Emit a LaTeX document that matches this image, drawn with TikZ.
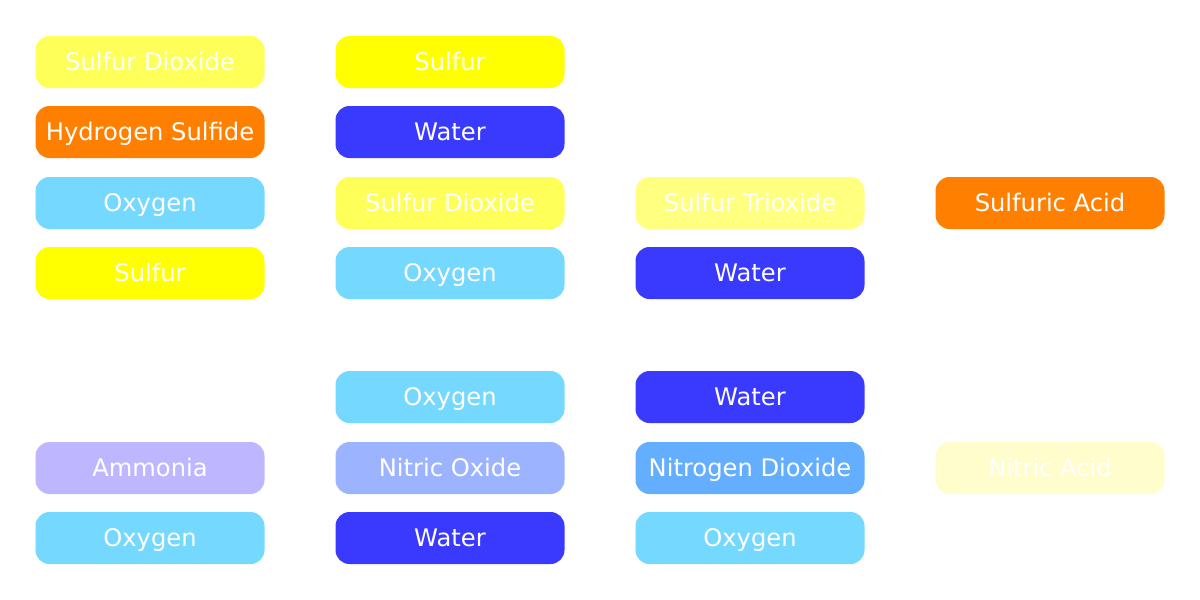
\documentclass[tikz,border=0pt]{standalone}
\usepackage{fontspec}
\setmainfont{DejaVu Sans}
\definecolor{sdiox}{HTML}{FFFF5A}
\definecolor{sulf}{HTML}{FFFF00}
\definecolor{hsulf}{HTML}{FF8000}
\definecolor{water}{HTML}{3A3AFF}
\definecolor{oxy}{HTML}{75D8FF}
\definecolor{strio}{HTML}{FFFF80}
\definecolor{ammon}{HTML}{BEB6FF}
\definecolor{nox}{HTML}{9CB4FF}
\definecolor{ndiox}{HTML}{63AEFF}
\definecolor{nacid}{HTML}{FFFDCC}
\tikzset{
    chem/.style={rounded corners=14pt, minimum width=229pt, minimum height=52pt,
        inner sep=0pt, text height=17.5pt, text depth=0pt, text=white,
        font=\fontsize{24.2}{28}\selectfont}
}
\begin{document}
\begin{tikzpicture}[x=1pt, y=-1pt]
    \useasboundingbox (0,0) rectangle (1200,600);

    % Sulfur cycle, column 1
    \node[chem, fill=sdiox] (so2a) at (150,62) {Sulfur Dioxide};
    \node[chem, fill=hsulf] (h2s) at (150,132) {Hydrogen Sulfide};
    \node[chem, fill=oxy] (o2a) at (150,203) {Oxygen};
    \node[chem, fill=sulf] (sa) at (150,273) {Sulfur};

    % Sulfur cycle, column 2
    \node[chem, fill=sulf] (sb) at (450,62) {Sulfur};
    \node[chem, fill=water] (h2oa) at (450,132) {Water};
    \node[chem, fill=sdiox] (so2b) at (450,203) {Sulfur Dioxide};
    \node[chem, fill=oxy] (o2b) at (450,273) {Oxygen};

    % Sulfur cycle, columns 3 and 4
    \node[chem, fill=strio] (so3) at (750,203) {Sulfur Trioxide};
    \node[chem, fill=water] (h2ob) at (750,273) {Water};
    \node[chem, fill=hsulf] (h2so4) at (1050,203) {Sulfuric Acid};

    % Nitrogen cycle
    \node[chem, fill=ammon] (nh3) at (150,468) {Ammonia};
    \node[chem, fill=oxy] (o2c) at (150,538) {Oxygen};
    \node[chem, fill=oxy] (o2d) at (450,397) {Oxygen};
    \node[chem, fill=nox] (no) at (450,468) {Nitric Oxide};
    \node[chem, fill=water] (h2oc) at (450,538) {Water};
    \node[chem, fill=water] (h2od) at (750,397) {Water};
    \node[chem, fill=ndiox] (no2) at (750,468) {Nitrogen Dioxide};
    \node[chem, fill=oxy] (o2e) at (750,538) {Oxygen};
    \node[chem, fill=nacid] (hno3) at (1050,468) {Nitric Acid};
\end{tikzpicture}
\end{document}
